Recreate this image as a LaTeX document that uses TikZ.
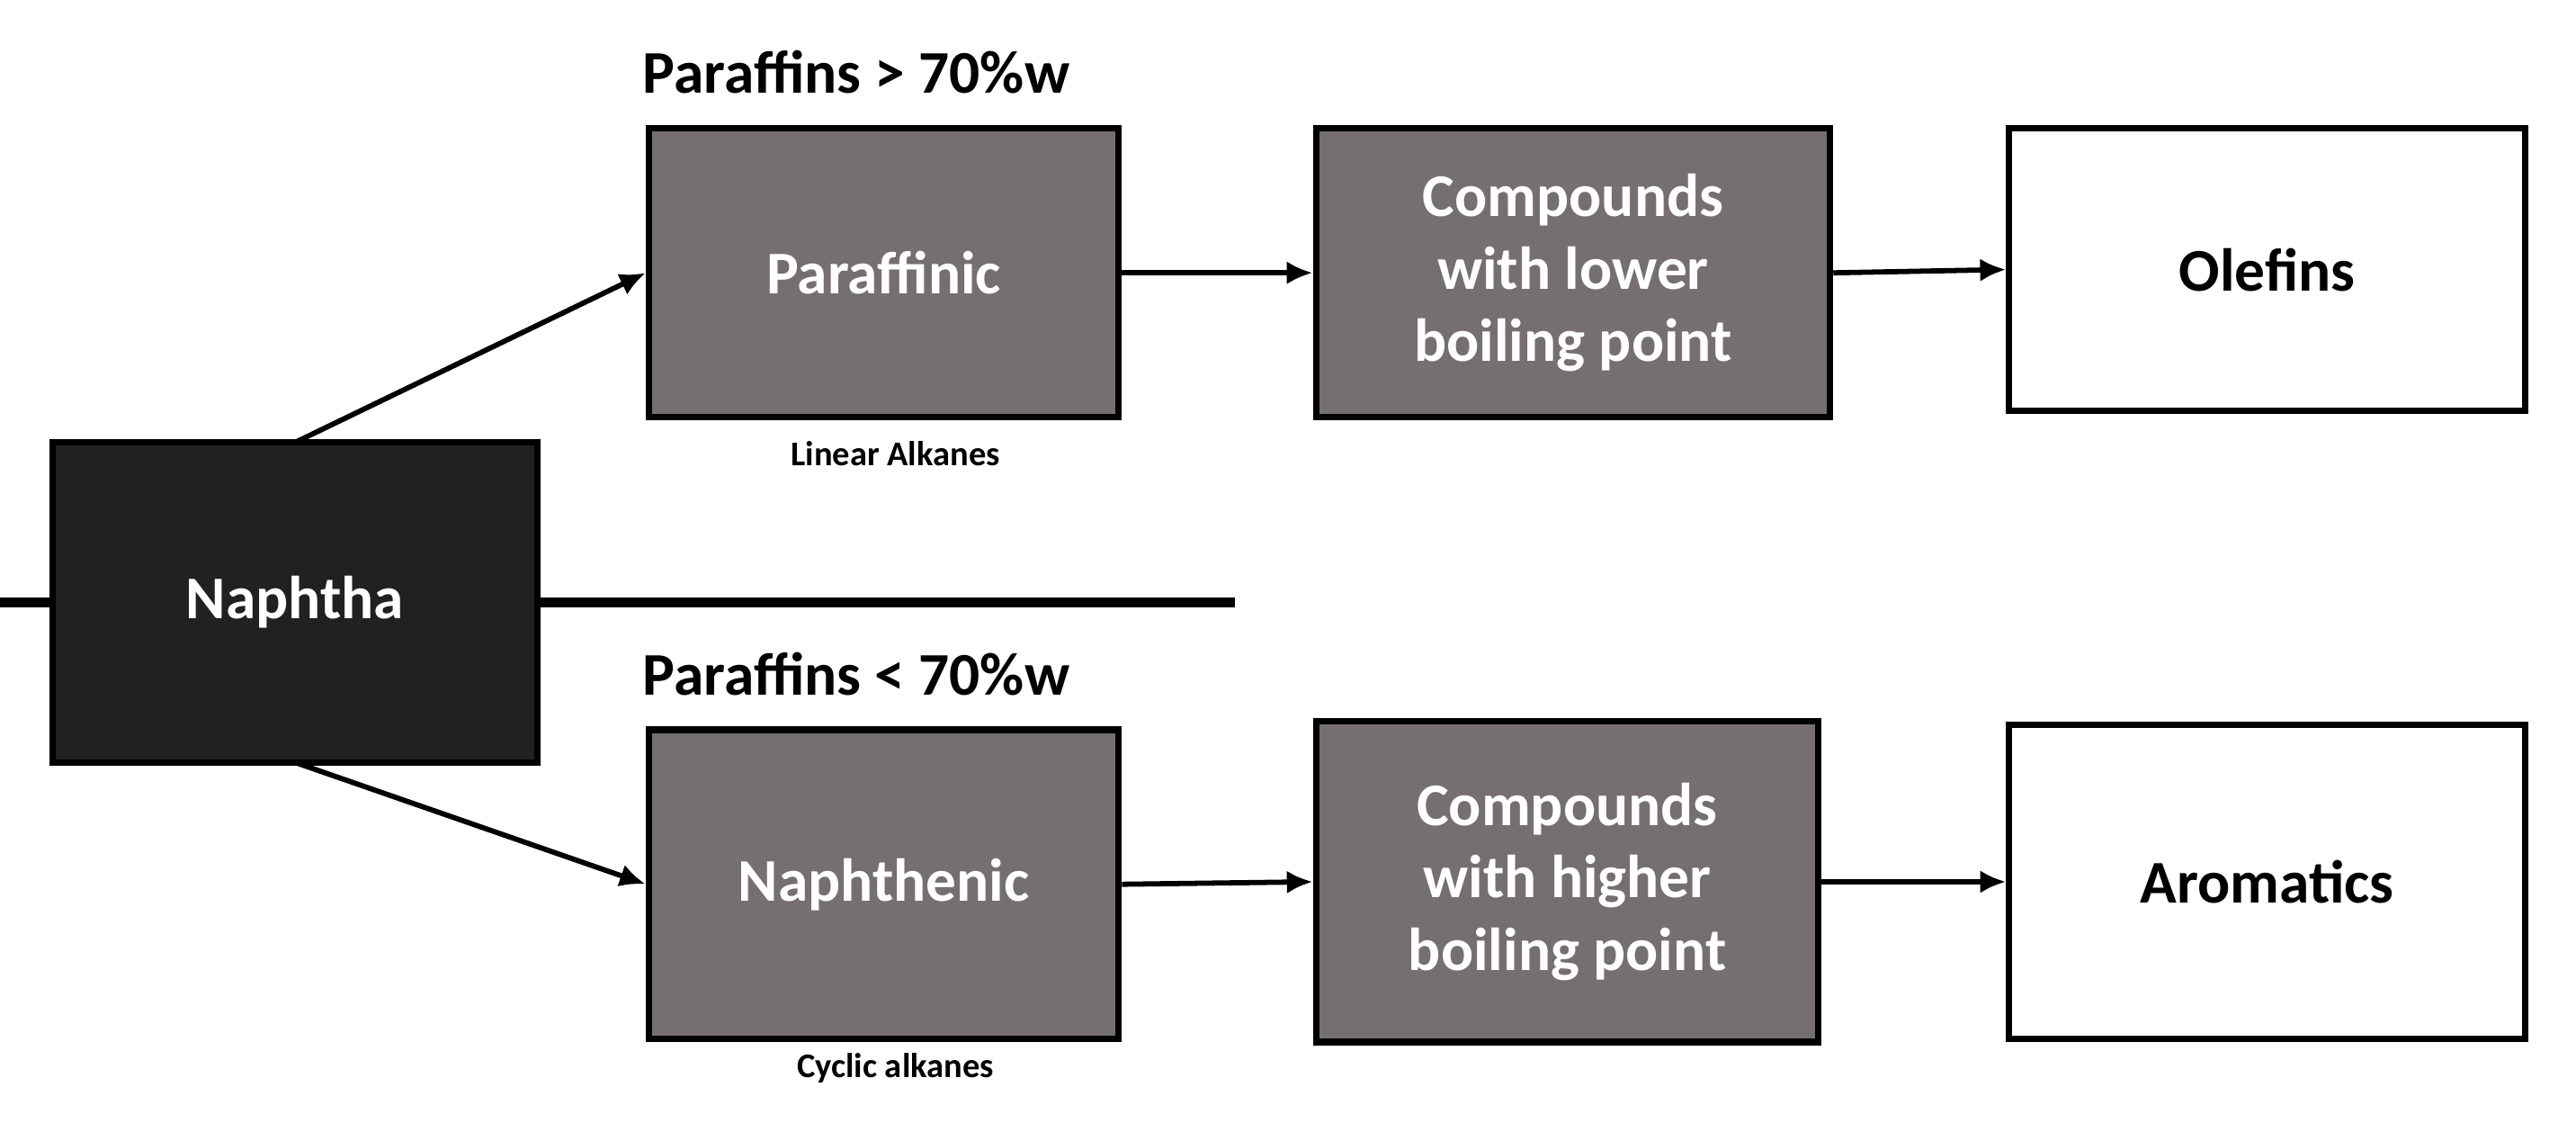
\documentclass[tikz,border=0pt]{standalone}
\usepackage{fontspec}
\setmainfont{Carlito}
\usetikzlibrary{arrows.meta}
\begin{document}
\begin{tikzpicture}[x=0.02cm,y=-0.02cm,
  box/.style={draw=black,line width=2.2pt,inner sep=0pt,font=\bfseries\fontsize{21}{25}\selectfont,align=center},
  gbox/.style={box,fill=gray!25!black!60!white,fill={rgb,255:red,118;green,111;blue,111},text=white},
  wbox/.style={box,fill=white,text=black},
  lab/.style={font=\bfseries\fontsize{21}{25}\selectfont,anchor=west,inner sep=0pt},
  small/.style={font=\bfseries\fontsize{12}{14}\selectfont,inner sep=0pt},
  arr/.style={line width=1.8pt,-{Latex[length=9pt,width=8pt]}}]
\useasboundingbox (0,0) rectangle (1568,683);
\node[box,fill={rgb,255:red,34;green,32;blue,32},text=white,minimum width=295\pgflinewidth] (n) at (179.5,366.5) {};
\draw[line width=2.2pt,fill={rgb,255:red,34;green,32;blue,32}] (32,269) rectangle (327,464);
\node[font=\bfseries\fontsize{21}{25}\selectfont,text=white] (nt) at (179.5,366.5) {Naphtha};
\coordinate (ntop) at (180,269);
\coordinate (nbot) at (180,464);
\node[gbox,minimum width=5.72cm,minimum height=3.52cm] (p) at (538,166) {Paraffinic};
\node[gbox,minimum width=6.26cm,minimum height=3.52cm] (cl) at (957.5,166) {Compounds\\with lower\\boiling point};
\node[wbox,minimum width=6.28cm,minimum height=3.44cm] (o) at (1380,164) {Olefins};
\node[gbox,minimum width=5.72cm,minimum height=3.76cm] (nn) at (538,538) {Naphthenic};
\node[gbox,minimum width=6.12cm,minimum height=3.9cm] (ch) at (954,536.5) {Compounds\\with higher\\boiling point};
\node[wbox,minimum width=6.28cm,minimum height=3.82cm] (a) at (1380,536.5) {Aromatics};
\node[lab] (l1) at (391,44) {Paraffins > 70\%w};
\node[lab] (l2) at (391,410) {Paraffins < 70\%w};
\node[small] (s1) at (545,276) {Linear Alkanes};
\node[small] (s2) at (545,650) {Cyclic alkanes};
\draw[arr] (ntop) -- (p.west);
\draw[arr] (nbot) -- (nn.west);
\draw[arr] (p.east) -- (cl.west);
\draw[arr] (cl.east) -- (o.west);
\draw[arr] (nn.east) -- (ch.west);
\draw[arr] (ch.east) -- (a.west);
\end{tikzpicture}
\end{document}
